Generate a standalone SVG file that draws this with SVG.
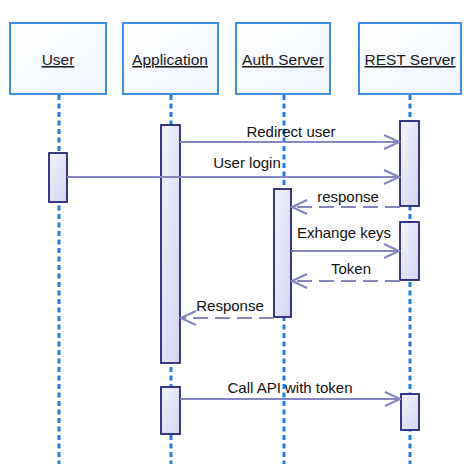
<svg xmlns="http://www.w3.org/2000/svg" width="474" height="474" viewBox="0 0 474 474">
<defs>
<linearGradient id="hdr" x1="0" y1="0" x2="1" y2="1">
<stop offset="0" stop-color="#ffffff"/><stop offset="1" stop-color="#eef5fc"/>
</linearGradient>
<linearGradient id="act" x1="0" y1="0" x2="1" y2="1">
<stop offset="0" stop-color="#f4f4fd"/><stop offset="1" stop-color="#d4d4f2"/>
</linearGradient>
<marker id="arr" markerWidth="18" markerHeight="18" refX="16" refY="9" orient="auto" markerUnits="userSpaceOnUse">
<path d="M1,2 L16,9 L1,16" fill="none" stroke="#8585c2" stroke-width="2"/>
</marker>
</defs>
<style>
.hdr{fill:url(#hdr);stroke:#3d8fe6;stroke-width:2}
.ht{font-family:"Liberation Sans",Arial,sans-serif;font-size:15.5px;fill:#1a1a1a;text-anchor:middle;text-decoration:underline}
.life{stroke:#1f7fe0;stroke-width:3;stroke-dasharray:5 3.5}
.act{fill:url(#act);stroke:#25257a;stroke-width:1.8}
.msg{stroke:#8585c2;stroke-width:2;fill:none;marker-end:url(#arr)}
.ret{stroke-dasharray:15 7}
.lbl{font-family:"Liberation Sans",Arial,sans-serif;font-size:15px;fill:#111;text-anchor:middle}
</style>
<rect width="474" height="474" fill="#ffffff"/>
<g id="lifelines">
<line class="life" x1="59" y1="95" x2="59" y2="464"/>
<line class="life" x1="171" y1="95" x2="171" y2="464"/>
<line class="life" x1="284" y1="95" x2="284" y2="464"/>
<line class="life" x1="410" y1="95" x2="410" y2="464"/>
</g>
<g id="user">
<rect class="hdr" x="10" y="23" width="96" height="71"/>
<text class="ht" x="58" y="65">User</text>
</g>
<g id="application">
<rect class="hdr" x="123" y="23" width="95" height="71"/>
<text class="ht" x="170" y="65">Application</text>
</g>
<g id="auth-server">
<rect class="hdr" x="236" y="23" width="94" height="71"/>
<text class="ht" x="283" y="65">Auth Server</text>
</g>
<g id="rest-server">
<rect class="hdr" x="359" y="23" width="102" height="71"/>
<text class="ht" x="410" y="65">REST Server</text>
</g>
<g id="activations">
<rect class="act" x="49" y="153" width="18" height="49"/>
<rect class="act" x="161" y="125" width="19" height="238"/>
<rect class="act" x="161" y="387" width="19" height="47"/>
<rect class="act" x="274" y="189" width="17" height="128"/>
<rect class="act" x="400" y="121" width="19" height="85"/>
<rect class="act" x="400" y="222" width="19" height="58"/>
<rect class="act" x="401" y="394" width="18" height="36"/>
</g>
<g id="connectors">
<line class="msg" x1="180" y1="142" x2="399" y2="142"/>
<line class="msg" x1="67" y1="177" x2="399" y2="177"/>
<line class="msg ret" x1="400" y1="207" x2="292" y2="207"/>
<line class="msg" x1="291" y1="251" x2="399" y2="251"/>
<line class="msg ret" x1="400" y1="281" x2="292" y2="281"/>
<line class="msg ret" x1="274" y1="318" x2="181" y2="318"/>
<line class="msg" x1="180" y1="399" x2="400" y2="399"/>
</g>
<g id="labels">
<text class="lbl" x="291" y="137">Redirect user</text>
<text class="lbl" x="247" y="168">User login</text>
<text class="lbl" x="348" y="202">response</text>
<text class="lbl" x="344" y="238">Exhange keys</text>
<text class="lbl" x="351" y="274">Token</text>
<text class="lbl" x="230" y="311">Response</text>
<text class="lbl" x="290" y="393">Call API with token</text>
</g>
</svg>
